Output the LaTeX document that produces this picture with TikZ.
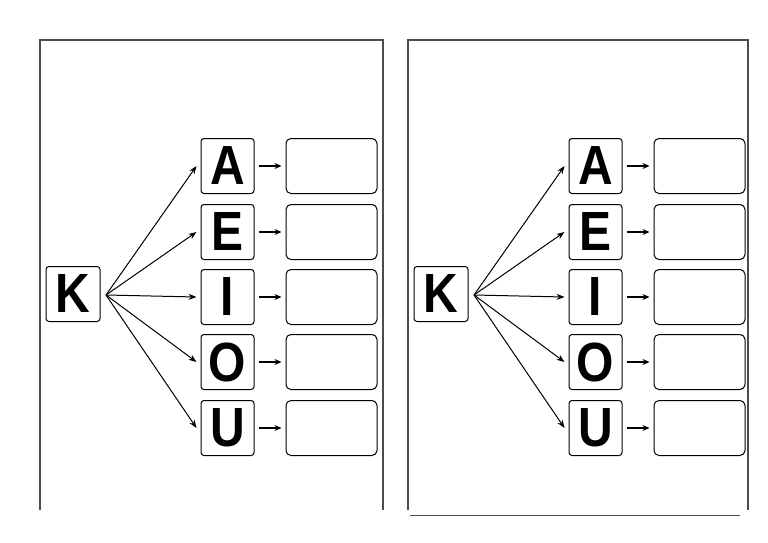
\documentclass[tikz,border=0pt]{standalone}
\usepackage{fontspec}
\setmainfont{Liberation Sans}
\usetikzlibrary{arrows.meta}
\begin{document}
\begin{tikzpicture}[x=1pt,y=-1pt,
  letterbox/.style={draw, line width=1pt, rounded corners=3pt, minimum width=53pt, minimum height=55pt, inner sep=0pt, font=\fontsize{48}{48}\selectfont\bfseries},
  answerbox/.style={draw, line width=1pt, rounded corners=5pt, minimum width=91pt, minimum height=55pt, inner sep=0pt},
  fan/.style={-{Stealth[length=8pt,width=6pt]}, line width=1pt},
  short/.style={-{Stealth[length=7pt,width=6pt]}, line width=1.5pt},
  frame/.style={draw=black!70, line width=1.5pt}]
\useasboundingbox (0,0) rectangle (768,543);
\draw[frame] (40,510) -- (40,40) -- (383,40) -- (383,510);
\draw[frame] (408,510) -- (408,40) -- (748,40) -- (748,510);
\draw[black!70, line width=1pt] (410,515) -- (740,515);
\foreach \dx/\p in {0/l,368/r}{
  \begin{scope}[xshift=\dx]
  \node[letterbox, minimum width=54pt] (K\p) at (73,294) {\scalebox{1}[1.15]{K}};
  \coordinate (hub\p) at (106,295);
  \foreach \L/\y in {A/166,E/232,I/297,O/362,U/428}{
    \node[letterbox] (\L\p) at (227.5,\y) {\scalebox{1}[1.15]{\L}};
    \node[answerbox] (B\L\p) at (331.5,\y) {};
    \draw[short] ([xshift=4pt]\L\p.east) -- ([xshift=-4pt]B\L\p.west);
    \draw[fan] (hub\p) -- ([xshift=-4pt]\L\p.west);
  }
  \end{scope}
}
\end{tikzpicture}
\end{document}
